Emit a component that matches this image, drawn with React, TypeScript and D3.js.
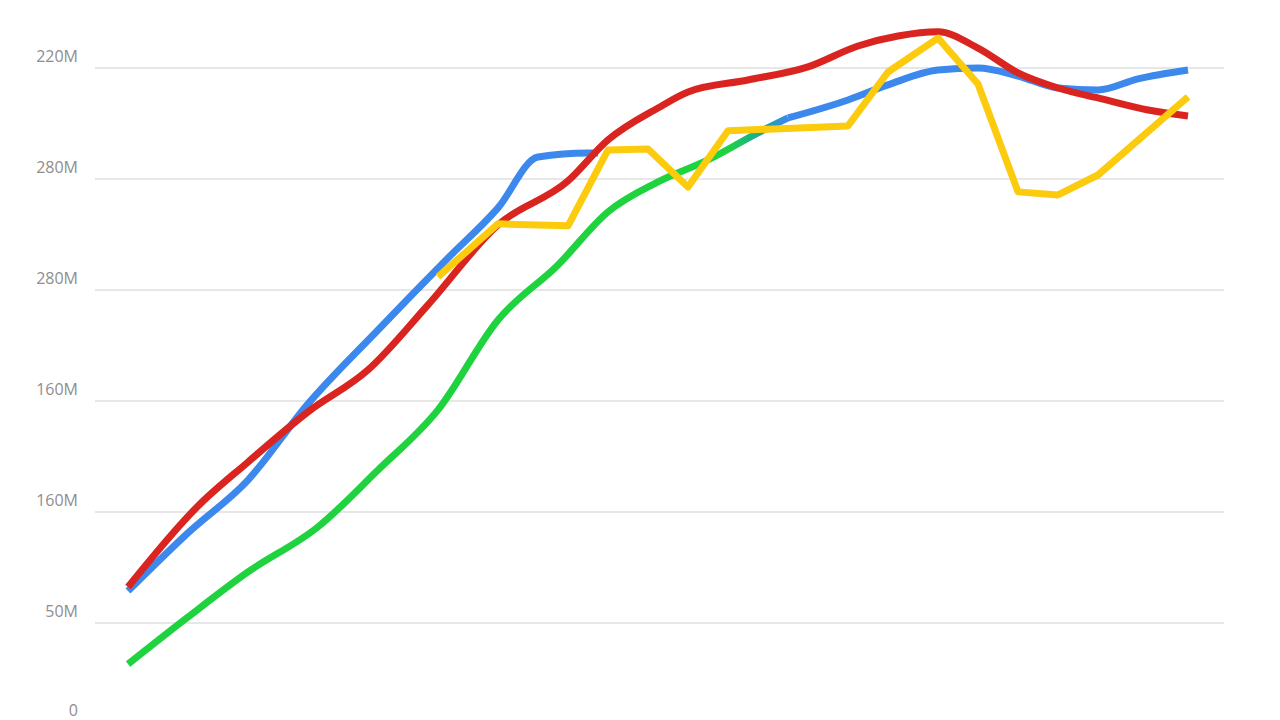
import React, { useEffect, useRef } from "react";
import * as d3 from "d3";

// tick values (millions) and the labels printed next to them
const tickValues = [0, 50, 100, 150, 200, 250, 300];
const tickLabels = ["0", "50M", "160M", "160M", "280M", "280M", "220M"];

// x is a plain period index, y in millions
const blueX = [0, 6, 12, 18, 25, 32, 37, 41, 46, 47];
const blueY = [64.4, 90.6, 114.4, 148.7, 182.0, 214.4, 237.0, 259.9, 261.7, 261.7];
const blueX2 = [66, 72, 76, 81, 85, 89, 93, 97, 101, 106];
const blueY2 = [277.5, 285.6, 292.4, 299.1, 300.0, 296.4, 291.0, 290.1, 295.1, 299.1];

const greenX = [0, 6, 12, 19, 25, 31, 37, 43, 48, 53, 58, 63, 66];
const greenY = [31.5, 52.7, 73.0, 93.3, 118.9, 146.0, 186.5, 211.3, 235.2, 248.7, 258.6, 270.8, 277.5];

const redX = [0, 7, 12, 18, 24, 30, 37, 44, 48, 53, 56, 62, 68, 73, 77, 81, 85, 89, 93, 97, 102, 106];
const redY = [66.2, 102.7, 122.5, 145.1, 164.0, 193.3, 229.3, 249.1, 267.6, 282.0, 289.2, 294.6, 300.5, 309.9, 314.4, 316.3, 309.0, 297.8, 291.0, 286.5, 281.1, 278.4];

const yellowX = [31, 37, 44, 48, 52, 56, 60, 72, 76, 81, 85, 89, 93, 97, 106];
const yellowY = [205.9, 229.8, 228.9, 263.1, 263.5, 246.4, 271.7, 273.9, 298.2, 313.5, 292.8, 244.2, 242.8, 251.8, 287.0];

const App = () => {
  const ref = useRef(null);

  useEffect(() => {
    const svg = d3.select(ref.current);
    svg.selectAll("*").remove();

    const x = d3.scaleLinear().domain([0, 106]).range([128, 1188]);
    const y = d3.scaleLinear().domain([0, 300]).range([734, 68]);

    // gradient where green runs into blue
    const defs = svg.append("defs");
    const grad = defs
      .append("linearGradient")
      .attr("id", "greenToBlue")
      .attr("gradientUnits", "userSpaceOnUse")
      .attr("x1", x(60))
      .attr("x2", x(66))
      .attr("y1", 0)
      .attr("y2", 0);
    grad.append("stop").attr("offset", "0%").attr("stop-color", "#1fd33f");
    grad.append("stop").attr("offset", "55%").attr("stop-color", "#1aa8a0");
    grad.append("stop").attr("offset", "100%").attr("stop-color", "#3c88ec");

    // grid lines
    svg
      .append("g")
      .selectAll("line")
      .data(tickValues)
      .enter()
      .append("line")
      .attr("x1", 95)
      .attr("x2", 1224)
      .attr("y1", (d) => y(d))
      .attr("y2", (d) => y(d))
      .attr("stroke", "#cfcfcf")
      .attr("stroke-width", 1);

    // tick labels (the bottom one is pulled up so it stays on the page)
    svg
      .append("g")
      .selectAll("text")
      .data(tickValues)
      .enter()
      .append("text")
      .attr("x", 78)
      .attr("y", (d) => Math.min(y(d) - 6, 716))
      .attr("text-anchor", "end")
      .attr("font-family", "'Open Sans', 'DejaVu Sans', sans-serif")
      .attr("font-size", 16)
      .attr("fill", "#8e8e8e")
      .text((d, i) => tickLabels[i]);

    const makeLine = (curve: any) =>
      d3
        .line<[number, number]>()
        .x((d) => x(d[0]))
        .y((d) => y(d[1]))
        .curve(curve);

    const zip = (xs: number[], ys: number[]) =>
      xs.map((v, i) => [v, ys[i]] as [number, number]);

    const series = [
      { pts: zip(blueX, blueY), color: "#3c88ec", curve: d3.curveMonotoneX },
      { pts: zip(blueX2, blueY2), color: "#3c88ec", curve: d3.curveMonotoneX },
      { pts: zip(greenX, greenY), color: "url(#greenToBlue)", curve: d3.curveMonotoneX },
      { pts: zip(redX, redY), color: "#da2420", curve: d3.curveMonotoneX },
      { pts: zip(yellowX, yellowY), color: "#fccb0e", curve: d3.curveLinear },
    ];

    svg
      .append("g")
      .selectAll("path")
      .data(series)
      .enter()
      .append("path")
      .attr("d", (s) => makeLine(s.curve)(s.pts))
      .attr("fill", "none")
      .attr("stroke", (s) => s.color)
      .attr("stroke-width", 7)
      .attr("stroke-linejoin", "round")
      .attr("stroke-linecap", "butt");
  }, []);

  return (
    <svg
      ref={ref}
      width={1280}
      height={720}
      style={{ position: "fixed", top: 0, left: 0, background: "#ffffff" }}
    />
  );
};

export default App;
